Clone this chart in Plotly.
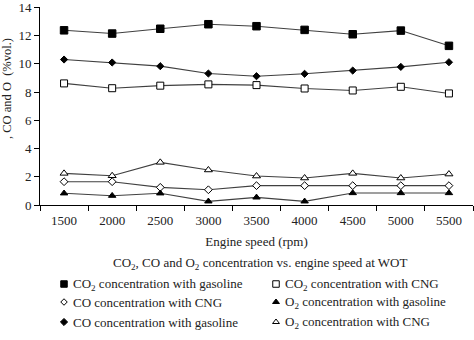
import plotly.graph_objects as go

speeds = ["1500", "2000", "2500", "3000", "3500", "4000", "4500", "5000", "5500"]

co2_gasoline = [12.37, 12.14, 12.48, 12.80, 12.66, 12.40, 12.09, 12.35, 11.27]
co_gasoline = [10.30, 10.09, 9.83, 9.31, 9.12, 9.29, 9.52, 9.78, 10.11]
co2_cng = [8.61, 8.27, 8.45, 8.54, 8.49, 8.25, 8.11, 8.37, 7.90]
o2_cng = [2.24, 2.07, 3.02, 2.48, 2.05, 1.91, 2.24, 1.91, 2.19]
co_cng = [1.65, 1.65, 1.25, 1.08, 1.37, 1.37, 1.37, 1.37, 1.37]
o2_gasoline = [0.83, 0.66, 0.83, 0.26, 0.54, 0.26, 0.85, 0.85, 0.85]

names = [
    "CO<sub>2</sub> concentration with gasoline",
    "CO<sub>2</sub> concentration with CNG",
    "CO concentration with CNG",
    "O<sub>2</sub> concentration with gasoline",
    "CO concentration with gasoline",
    "O<sub>2</sub> concentration with CNG",
]
values = [co2_gasoline, co2_cng, co_cng, o2_gasoline, co_gasoline, o2_cng]
symbols = ["square", "square", "diamond", "triangle-up", "diamond", "triangle-up"]
fills = ["black", "white", "white", "black", "black", "white"]
sizes = [7.5, 7, 6, 6.5, 5.5, 7]
legend_sizes = [6.5, 6.5, 5, 6, 5.5, 6]

W, H = 474, 340
PL, PR, PT, PB = 40, 473, 7, 205  # plot area in pixels

# legend layout (pixel grid): column x of marker/text, row y
leg_marker_x = [64, 276]
leg_text_x = [71, 283]
leg_row_y = [284, 302, 322]

FONT = "Liberation Serif"
TXT = dict(family=FONT, size=13, color="#222")

fig = go.Figure()
for name, vals, sym, fill, size in zip(names, values, symbols, fills, sizes):
    fig.add_trace(go.Scatter(
        x=speeds, y=vals, mode="lines+markers", name=name, showlegend=False,
        line=dict(color="#404040", width=1.1),
        marker=dict(symbol=sym, size=size, color=fill, line=dict(color="black", width=1)),
        cliponaxis=False,
    ))

# manual legend on a hidden full-figure pixel grid
annotations = []
for i, (name, sym, fill, size) in enumerate(zip(names, symbols, fills, legend_sizes)):
    col, row = i % 2, i // 2
    fig.add_trace(go.Scatter(
        x=[leg_marker_x[col]], y=[leg_row_y[row]], xaxis="x2", yaxis="y2",
        mode="markers", showlegend=False, hoverinfo="skip", cliponaxis=False,
        marker=dict(symbol=sym, size=size, color=fill, line=dict(color="black", width=1)),
    ))
    annotations.append(dict(
        text=name, xref="x2", yref="y2", x=leg_text_x[col], y=leg_row_y[row],
        xanchor="left", yanchor="middle", showarrow=False, font=TXT,
    ))

annotations.append(dict(
    text="CO<sub>2</sub>, CO and O<sub>2</sub> concentration vs. engine speed at WOT",
    xref="x2", yref="y2", x=260, y=263, xanchor="center", yanchor="middle",
    showarrow=False, font=TXT,
))
annotations.append(dict(
    text=", CO and O\u00a0\u00a0(%vol.)", textangle=-90,
    xref="x2", yref="y2", x=7, y=89, xanchor="center", yanchor="middle",
    showarrow=False, font=dict(family=FONT, size=12.5, color="#222"),
))

fig.update_layout(
    width=W, height=H,
    margin=dict(l=0, r=0, t=0, b=0, autoexpand=False),
    paper_bgcolor="white", plot_bgcolor="rgba(0,0,0,0)",
    font=TXT,
    showlegend=False,
    xaxis=dict(
        domain=[PL / W, PR / W], anchor="y",
        type="category", range=[-0.5, 8.5], showline=True, linecolor="black", linewidth=1,
        ticks="outside", tickson="boundaries", ticklen=5, tickcolor="black",
        showgrid=False, zeroline=False, tickfont=TXT, ticklabelstandoff=3,
        ticklabeloverflow="allow",
        title=dict(text="Engine speed (rpm)", font=TXT, standoff=10),
    ),
    yaxis=dict(
        domain=[1 - PB / H, 1 - PT / H], anchor="x",
        range=[0, 14.02], tickvals=[0, 2, 4, 6, 8, 10, 12, 14],
        showline=True, linecolor="black", linewidth=1,
        ticks="outside", ticklen=5, tickcolor="black", showgrid=False, zeroline=False,
        tickfont=TXT, ticklabeloverflow="allow",
    ),
    xaxis2=dict(domain=[0, 1], anchor="y2", range=[0, W], visible=False, fixedrange=True),
    yaxis2=dict(domain=[0, 1], anchor="x2", range=[H, 0], visible=False, fixedrange=True),
    annotations=annotations,
)

fig.write_html("out.html")
